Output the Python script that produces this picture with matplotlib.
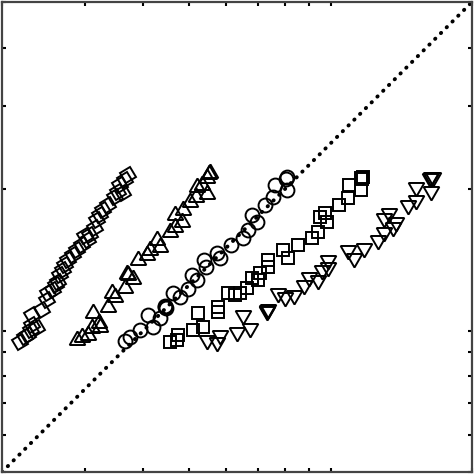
import matplotlib
matplotlib.use("Agg")
import matplotlib.pyplot as plt
from matplotlib.markers import MarkerStyle
from matplotlib.transforms import Affine2D

# Series A: tilted squares (leftmost band)
a_x = [2.18, 2.24, 2.27, 2.30, 2.32, 2.32, 2.37, 2.43, 2.49, 2.51, 2.57, 2.60, 2.63, 2.66,
       2.70, 2.72, 2.76, 2.83, 2.89, 2.96, 3.01, 3.05, 3.08, 3.15, 3.18, 3.23, 3.28, 3.36,
       3.48, 3.53, 3.57, 3.62, 3.66, 3.71]
a_y = [0.945, 0.969, 0.978, 1.003, 1.028, 1.079, 1.013, 1.106, 1.161, 1.20, 1.219, 1.25, 1.268, 1.312,
       1.345, 1.378, 1.413, 1.448, 1.483, 1.520, 1.59, 1.558, 1.597, 1.653, 1.718, 1.761, 1.805, 1.849,
       1.923, 1.97, 2.04, 1.96, 2.09, 2.142]

# Series B: upward triangles
b_x = [2.89, 2.96, 3.05, 3.11, 3.21, 3.13, 3.23, 3.36, 3.42, 3.48, 3.66, 3.69, 3.71, 3.80, 3.89,
       4.07, 4.13, 4.28, 4.34, 4.56, 4.67, 4.67, 4.82, 4.85, 5.02, 5.17, 5.20, 5.33, 5.45,
       5.54, 5.52, 5.45]
b_y = [0.955, 0.969, 0.978, 1.013, 1.038, 1.09, 1.018, 1.122, 1.20, 1.178, 1.234, 1.32, 1.31, 1.29, 1.413,
       1.448, 1.483, 1.558, 1.505, 1.62, 1.66, 1.761, 1.70, 1.805, 1.877, 1.923, 2.02, 2.04, 2.11,
       2.16, 2.15, 1.95]

# Series C: circles (along the dotted line)
c_x = [3.65, 3.74, 3.93, 4.09, 4.19, 4.34, 4.45, 4.45, 4.47, 4.63, 4.78, 4.97, 5.07, 5.20, 5.38, 5.43,
       5.74, 5.82, 6.14, 6.51, 6.67, 6.81, 6.98, 7.26, 7.55, 7.62, 8.08, 8.08, 8.06]
c_y = [0.95, 0.969, 1.003, 1.079, 1.018, 1.063, 1.122, 1.13, 1.115, 1.20, 1.178, 1.228, 1.312, 1.281, 1.413, 1.365,
       1.462, 1.427, 1.52, 1.573, 1.636, 1.761, 1.70, 1.849, 1.923, 2.04, 1.99, 2.12, 2.10]

# Series D: squares
d_x = [4.56, 4.71, 4.74, 5.09, 5.36, 5.23, 5.76, 5.76, 6.05, 6.26, 6.42, 6.64, 6.81, 7.08,
       7.01, 7.35, 7.35, 7.92, 8.12, 8.52, 9.13, 9.40, 9.50, 9.74, 9.84, 10.4, 10.9, 10.95,
       11.6, 11.6, 11.7, 11.65]
d_y = [0.945, 0.955, 0.978, 1.003, 1.018, 1.09, 1.122, 1.095, 1.20, 1.19, 1.20, 1.234, 1.294, 1.325,
       1.281, 1.413, 1.365, 1.483, 1.427, 1.52, 1.573, 1.62, 1.74, 1.78, 1.70, 1.849, 1.914, 2.04,
       2.11, 1.99, 2.12, 2.10]

# Series E: downward triangles
e_x = [5.46, 5.73, 5.82, 6.33, 6.52, 6.74, 7.33, 7.33, 7.35, 7.73, 8.0, 8.36, 8.78, 9.0, 9.4, 9.6,
       9.9, 9.9, 10.9, 11.2, 11.8, 12.6, 13.0, 13.3, 13.0, 13.8, 13.6, 14.6, 15.2, 15.2,
       16.4, 16.3, 16.5, 16.4]
e_y = [0.955, 0.945, 0.978, 0.993, 1.079, 1.013, 1.106, 1.10, 1.112, 1.20, 1.178, 1.19, 1.25, 1.30, 1.281, 1.345,
       1.413, 1.365, 1.483, 1.427, 1.50, 1.558, 1.62, 1.78, 1.735, 1.70, 1.66, 1.849, 1.895, 2.02,
       1.98, 2.11, 2.12, 2.125]

x_lim = [2, 20]
y_lim = [0.5, 5]

fig = plt.figure(figsize=(4.74, 4.74), dpi=100)
ax = fig.add_axes([2 / 474, 2 / 474, 470 / 474, 470 / 474])
ax.set_xscale("log")
ax.set_yscale("log")

ax.plot(x_lim, y_lim, color="black", linestyle=(0, (0.1, 2.0)), linewidth=2.8,
        dash_capstyle="round", zorder=1)

tilted = MarkerStyle("s", transform=Affine2D().rotate_deg(30))
common = dict(linestyle="none", markerfacecolor="none", markeredgecolor="black",
              markeredgewidth=1.4, zorder=2)
ax.plot(a_x, a_y, marker=tilted, markersize=8.8, **common)
ax.plot(b_x, b_y, marker=(3, 0, 0), markersize=13, **common)
ax.plot(c_x, c_y, marker="o", markersize=10, **common)
ax.plot(d_x, d_y, marker="s", markersize=8.6, **common)
ax.plot(e_x, e_y, marker=(3, 0, 180), markersize=13, **common)

ax.set_xlim(x_lim)
ax.set_ylim(y_lim)
ax.xaxis.set_minor_locator(matplotlib.ticker.LogLocator(base=10, subs=range(1, 10)))
ax.yaxis.set_minor_locator(matplotlib.ticker.LogLocator(base=10, subs=range(1, 10)))
ax.tick_params(which="both", direction="in", top=True, right=True, length=3.2, width=1.5,
               color="black", labelbottom=False, labelleft=False)
for s in ax.spines.values():
    s.set_color("#444444")
    s.set_linewidth(1.6)

fig.savefig("out.png", dpi=100)
